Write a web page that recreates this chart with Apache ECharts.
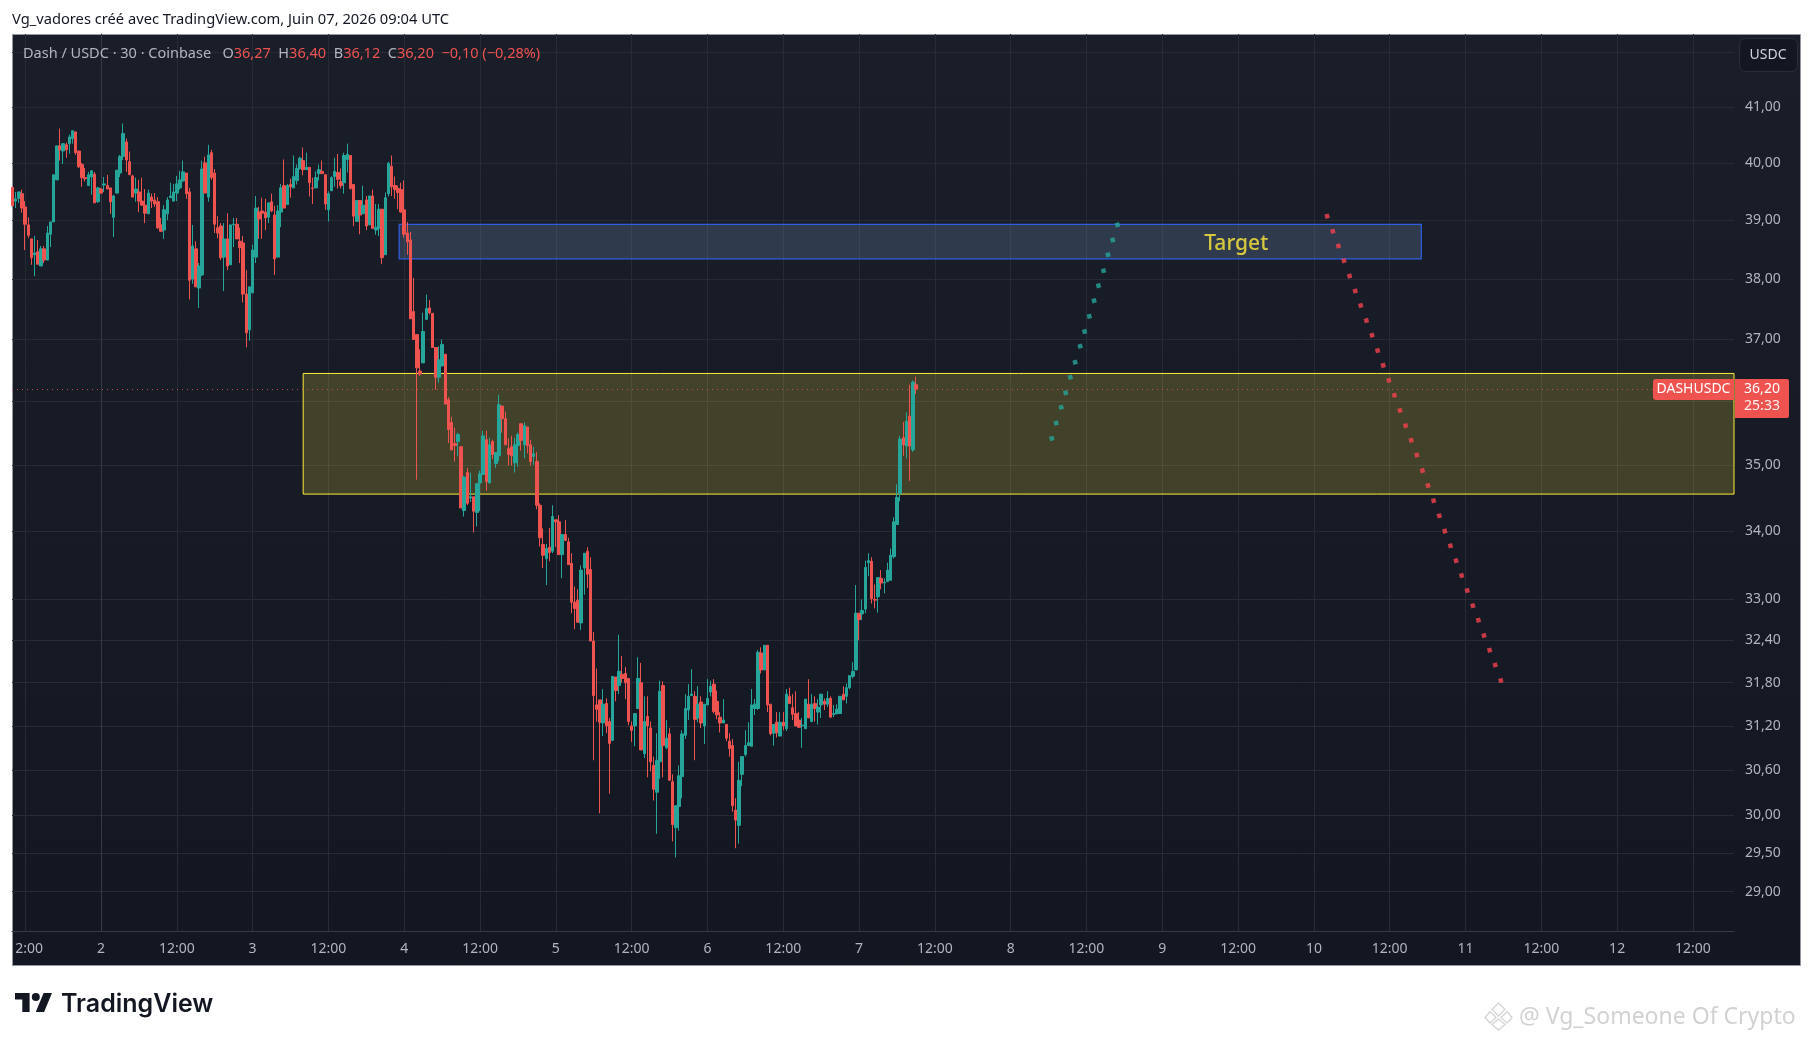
<!DOCTYPE html>
<html><head><meta charset="utf-8"><title>Dash / USDC</title>
<style>html,body{margin:0;padding:0;background:#fff}#c{width:1814px;height:1041px}</style>
<script src="https://cdn.jsdelivr.net/npm/echarts@6/dist/echarts.min.js"></script>
</head><body><div id="c"></div><script>
// x positions are hours after 2026-06-02 00:00 UTC; candles are 30 minutes apart
const firstCandleHour = -14;
const opens = [
39.57,39.33,39.38,39.46,39.23,38.92,38.68,38.41,38.46,38.22,
38.51,38.32,38.76,38.97,39.70,40.30,40.21,40.32,40.34,40.43,
40.55,40.21,39.97,39.74,39.60,39.75,39.80,39.32,39.54,39.61,
39.60,39.56,39.05,39.47,39.82,40.11,40.37,40.02,39.77,39.47,
39.49,39.33,39.26,39.11,39.40,39.35,39.32,38.92,38.83,39.11,
39.39,39.33,39.47,39.56,39.68,39.82,39.49,38.00,38.51,37.85,
38.07,40.00,39.40,40.18,39.82,38.87,38.90,38.37,38.68,38.24,
38.92,38.93,38.64,38.61,37.75,37.16,37.77,38.37,39.14,39.16,
39.14,39.05,39.32,39.09,38.37,39.14,39.60,39.27,39.62,39.56,
39.69,39.90,40.04,39.88,39.92,39.56,39.56,39.81,39.85,39.79,
39.18,39.51,39.76,39.83,39.67,39.65,40.06,40.13,39.62,38.98,
39.34,39.11,39.35,38.92,39.42,38.83,38.86,39.19,38.41,39.46,
39.94,39.60,39.55,39.53,39.18,38.78,38.66,37.46,37.08,36.49,
36.62,37.33,37.52,37.43,36.87,36.39,36.57,36.76,36.03,35.67,
35.34,35.37,35.29,34.31,34.89,34.50,34.52,34.28,34.73,34.86,
35.40,34.73,35.37,35.03,35.15,35.93,35.73,35.26,35.29,35.04,
35.31,35.65,35.32,35.60,35.32,35.14,35.06,34.39,33.80,33.59,
33.76,33.70,34.17,34.14,33.65,33.95,33.84,33.52,32.95,32.98,
32.65,33.45,33.70,33.43,32.39,31.49,31.56,31.24,31.51,31.26,
31.00,31.88,31.76,31.92,31.93,31.86,31.20,31.20,31.44,31.80,
30.82,31.33,31.17,30.66,30.30,30.71,31.76,30.90,31.09,30.44,
29.83,30.11,30.51,31.07,31.42,31.62,31.61,31.31,31.53,31.20,
31.49,31.67,31.78,31.54,31.32,31.24,31.22,30.99,30.93,30.06,
29.86,30.54,30.81,30.93,30.92,31.44,31.44,32.22,31.98,32.33,
31.50,31.10,31.25,31.06,31.25,31.16,31.61,31.45,31.37,31.28,
31.20,31.16,31.50,31.26,31.51,31.39,31.49,31.54,31.50,31.58,
31.36,31.37,31.37,31.64,31.61,31.73,31.89,31.98,32.79,32.78,
32.85,33.53,33.55,32.99,33.03,33.30,33.23,33.25,33.27,33.62,
34.10,34.57,35.43,35.30,35.77,35.24,36.27];
const highs = [
39.57,39.49,39.49,39.53,39.33,39.05,38.68,38.73,38.66,38.56,
38.56,38.90,38.97,39.79,40.30,40.61,40.34,40.36,40.50,40.57,
40.55,40.21,40.00,39.91,39.84,39.87,39.84,39.58,39.56,39.75,
39.79,39.56,39.44,39.87,40.14,40.70,40.43,40.20,39.79,39.74,
39.70,39.74,39.54,39.53,39.46,39.47,39.40,39.04,39.26,39.40,
39.65,39.63,39.77,39.86,40.04,39.82,39.56,38.92,38.64,38.27,
40.04,40.11,40.32,40.23,39.89,39.07,38.95,38.95,39.12,38.92,
39.04,39.04,38.87,38.73,38.15,37.87,38.58,39.42,39.23,39.39,
39.37,39.30,39.46,39.25,39.26,39.63,40.06,39.63,39.72,40.13,
39.97,40.11,40.27,40.18,39.92,39.74,39.85,39.97,40.04,39.79,
39.50,39.76,40.09,40.16,39.90,40.18,40.34,40.13,39.63,39.34,
39.34,39.60,39.42,39.42,39.53,39.28,39.28,39.19,39.48,40.02,
40.13,39.76,39.60,39.65,39.69,38.97,38.80,38.02,37.08,36.84,
37.44,37.74,37.65,37.43,36.87,36.89,37.00,36.76,36.07,35.76,
35.59,35.51,35.29,34.84,34.96,34.89,34.52,34.72,34.92,35.54,
35.54,35.43,35.40,35.20,36.11,35.93,35.84,35.42,35.46,35.43,
35.51,35.65,35.67,35.60,35.40,35.29,35.21,34.42,34.04,33.81,
34.05,34.39,34.17,34.24,33.95,34.17,33.90,33.67,33.18,33.14,
33.49,33.67,33.76,33.61,32.52,32.00,31.56,31.71,31.58,31.31,
31.89,31.88,32.48,32.18,32.02,31.86,31.26,31.37,32.16,32.08,
31.61,31.61,31.26,30.78,31.10,31.83,31.82,31.28,31.17,30.54,
30.12,30.66,31.14,31.64,31.78,31.99,31.68,31.75,31.61,31.50,
31.85,31.83,31.85,31.69,31.39,31.57,31.22,31.10,31.02,30.22,
30.71,30.78,31.14,31.25,31.71,31.57,32.26,32.30,32.33,32.33,
31.50,31.22,31.39,31.39,31.39,31.71,31.73,31.64,31.68,31.39,
31.31,31.57,31.85,31.64,31.61,31.57,31.64,31.58,31.68,31.61,
31.49,31.50,31.61,31.75,31.79,31.90,32.09,33.20,32.79,32.99,
33.56,33.67,33.61,33.21,33.31,33.42,33.30,33.53,33.74,34.21,
34.71,35.46,35.68,35.83,36.27,36.34,36.40];
const lows = [
39.25,39.21,39.30,39.13,38.49,38.69,38.24,38.05,38.25,38.22,
38.27,38.32,38.54,38.97,39.70,40.04,39.98,40.09,40.16,40.34,
40.14,39.91,39.58,39.67,39.60,39.44,39.30,39.30,39.46,39.49,
39.54,39.11,38.71,39.47,39.75,40.05,39.84,39.79,39.40,39.32,
39.14,39.26,38.95,39.11,39.21,39.23,38.85,38.80,38.68,39.00,
39.39,39.33,39.33,39.53,39.67,39.37,37.66,37.92,37.87,37.52,
38.05,39.47,39.32,39.70,38.78,38.69,38.32,37.80,38.15,38.24,
38.54,38.68,38.27,37.61,36.87,36.98,37.77,38.27,38.68,38.68,
38.83,38.95,39.14,38.07,38.37,38.88,39.21,39.27,39.39,39.56,
39.62,39.88,39.78,39.88,39.41,39.28,39.56,39.69,39.81,39.18,
38.98,39.51,39.58,39.55,39.55,39.46,39.83,39.53,38.90,38.98,
38.76,39.11,38.83,38.92,38.86,38.75,38.73,38.25,38.41,39.41,
39.42,39.37,39.19,39.13,38.70,38.41,37.34,37.00,34.78,36.41,
36.62,37.33,37.41,36.87,36.19,36.30,36.57,35.96,35.35,35.24,
35.06,35.14,34.35,34.22,34.39,34.44,33.98,34.07,34.30,34.86,
34.61,34.73,35.10,34.96,35.07,35.51,35.32,35.00,35.00,34.89,
34.98,35.23,35.11,35.19,35.00,35.01,34.33,33.77,33.45,33.20,
33.55,33.67,33.76,33.65,33.30,33.86,33.50,32.79,32.56,32.66,
32.55,33.06,33.16,32.39,30.73,31.26,30.02,31.06,31.10,30.28,
31.00,31.54,31.64,31.80,31.57,31.21,30.98,30.92,31.44,30.87,
30.76,30.50,30.58,30.19,29.75,30.48,30.50,30.88,30.46,29.65,
29.44,29.79,30.22,31.02,31.28,31.62,30.73,31.25,31.17,30.95,
31.49,31.61,31.37,31.29,31.11,31.24,30.99,30.78,30.04,29.56,
29.62,30.38,30.78,30.93,30.92,31.35,31.42,31.93,31.98,31.39,
31.07,30.93,31.04,31.06,31.14,31.13,31.51,31.28,31.20,31.18,
30.90,31.16,31.31,31.25,31.26,31.22,31.31,31.42,31.46,31.32,
31.32,31.36,31.37,31.56,31.51,31.71,31.86,31.98,32.40,32.69,
32.79,33.33,32.93,32.86,32.80,33.14,33.08,33.25,33.27,33.59,
34.10,34.45,35.15,35.11,34.76,35.21,36.12];
const closes = [
39.25,39.37,39.49,39.21,38.93,38.74,38.36,38.44,38.25,38.51,
38.32,38.78,38.97,39.79,40.30,40.23,40.34,40.23,40.46,40.57,
40.18,39.93,39.74,39.72,39.79,39.86,39.30,39.56,39.47,39.63,
39.54,39.32,39.42,39.87,40.11,40.52,40.05,39.79,39.40,39.54,
39.33,39.26,39.12,39.47,39.33,39.28,38.87,38.81,39.18,39.35,
39.42,39.49,39.63,39.70,39.84,39.46,37.98,38.56,37.87,38.22,
39.89,39.47,40.14,39.74,38.93,38.78,38.36,38.68,38.22,38.92,
38.93,38.68,38.53,37.75,37.11,37.87,38.49,39.21,39.02,39.12,
39.04,39.30,39.16,38.34,39.16,39.56,39.21,39.60,39.58,39.76,
39.90,40.08,39.88,39.92,39.65,39.55,39.74,39.88,39.81,39.28,
39.46,39.74,39.85,39.71,39.60,40.13,40.15,39.55,39.07,39.34,
39.09,39.26,38.90,39.42,38.86,38.88,39.19,38.36,39.39,39.99,
39.58,39.53,39.48,39.14,38.76,38.63,37.34,37.00,36.54,36.44,
37.13,37.51,37.44,36.87,36.39,36.67,36.92,35.96,35.56,35.24,
35.31,35.48,34.35,34.82,34.42,34.52,34.30,34.72,34.87,35.46,
34.75,35.32,35.17,35.20,35.95,35.73,35.32,35.17,35.15,35.32,
35.48,35.39,35.62,35.31,35.06,35.18,34.39,33.90,33.64,33.74,
33.68,34.22,34.14,33.65,33.95,33.86,33.50,32.95,32.86,32.66,
33.42,33.67,33.36,32.39,31.62,31.43,31.25,31.50,31.20,30.96,
31.89,31.69,31.96,31.86,31.80,31.26,31.14,31.37,31.86,30.87,
31.26,31.20,30.71,30.34,30.73,31.68,30.93,31.03,30.46,29.87,
30.12,30.52,31.09,31.44,31.61,31.64,31.29,31.50,31.24,31.50,
31.58,31.75,31.40,31.35,31.24,31.28,31.03,30.89,30.12,29.93,
30.46,30.78,30.93,30.97,31.49,31.50,32.23,31.98,32.33,31.49,
31.09,31.22,31.11,31.25,31.20,31.64,31.51,31.36,31.20,31.18,
31.21,31.57,31.31,31.50,31.44,31.46,31.64,31.50,31.58,31.32,
31.37,31.43,31.61,31.56,31.73,31.90,31.96,32.79,32.70,32.83,
33.46,33.56,33.00,32.98,33.31,33.23,33.24,33.42,33.64,34.14,
34.51,35.41,35.32,35.69,35.30,36.31,36.20];

const xTickHours = [-12,0,12,24,36,48,60,72,84,96,108,120,132,144,156,168,180,192,204,216,228,240,252];
const xTickLabels = ['{cut|2:00}','2','12:00','3','12:00','4','12:00','5','12:00','6','12:00','7','12:00','8','12:00','9','12:00','10','12:00','11','12:00','12','12:00'];
const yGridPrices = [42,41,40,39,38,37,36,35,34,33,32.4,31.8,31.2,30.6,30,29.5,29];
const yLabelPrices = [41,40,39,38,37,35,34,33,32.4,31.8,31.2,30.6,30,29.5,29];

const upPathHours = [150.5,151.2,152.0,152.7,153.45,154.2,155.0,155.7,156.45,157.2,157.9,158.7,159.4,160.15,160.9];
const upPathPrices = [35.42,35.66,35.91,36.14,36.39,36.63,36.89,37.13,37.38,37.64,37.89,38.14,38.41,38.66,38.92];
const downPathHours = [194.1,194.99,195.88,196.76,197.65,198.54,199.42,200.31,201.2,202.08,202.97,203.86,204.74,205.63,206.52,207.4,208.29,209.18,210.06,210.95,211.84,212.72,213.61,214.5,215.38,216.27,217.16,218.04,218.93,219.82,220.7,221.59];
const downPathPrices = [39.07,38.81,38.56,38.31,38.05,37.80,37.56,37.31,37.07,36.82,36.58,36.34,36.10,35.86,35.62,35.39,35.16,34.92,34.69,34.46,34.23,34.00,33.78,33.56,33.34,33.12,32.90,32.69,32.47,32.26,32.05,31.83];

const targetZone = {from:47.2, to:209, low:38.34, high:38.93};
const supplyZone = {from:32, to:259.5, low:34.56, high:36.45};
const targetLabel = {hour:179.7, price:38.6};
const lastPrice = 36.20;
const xRangeHours = [-14.09, 258.5];

const candleData = opens.map((o,i)=>[firstCandleHour+i/2, o, closes[i], lows[i], highs[i]]);
const tickLabelAt = {}; xTickHours.forEach((t,i)=>tickLabelAt[t]=xTickLabels[i]);
const grid = '#272B36', axisCol='#363A45', txt='#B2B5BE', red='#EF5350', green='#26A69A';
const uiFont = '"Noto Sans", Roboto, sans-serif';

const chart = echarts.init(document.getElementById('c'),null,{renderer:'canvas'});
chart.setOption({
  animation:false, backgroundColor:'#ffffff',
  textStyle:{fontFamily:uiFont},
  grid:{left:12,right:80,top:34,bottom:110,containLabel:false},
  xAxis:{type:'value',min:xRangeHours[0],max:xRangeHours[1],
    axisLine:{show:true,onZero:false,lineStyle:{color:axisCol}},
    axisTick:{show:false,customValues:xTickHours},
    splitLine:{show:true,lineStyle:{color:grid,width:1}},
    axisLabel:{customValues:xTickHours,color:txt,fontSize:14,margin:11,hideOverlap:false,showMinLabel:true,showMaxLabel:true,
      formatter:v=>tickLabelAt[v]||'',
      rich:{cut:{color:txt,fontSize:14,fontFamily:uiFont,padding:[0,0,0,8]}}}},
  yAxis:{type:'log',logBase:10,position:'right',min:28.5,max:42.34,
    axisLine:{show:true,lineStyle:{color:axisCol}},
    axisTick:{show:false,customValues:yGridPrices},
    minorTick:{show:false},minorSplitLine:{show:false},
    splitLine:{show:true,lineStyle:{color:grid,width:1}},
    axisLabel:{customValues:yLabelPrices,color:txt,fontSize:14,margin:11,padding:[0,0,4,0],hideOverlap:false,
      formatter:v=>Number(v).toFixed(2).replace('.',',')}},
  series:[
    {type:'line',data:[],z:1,silent:true,showSymbol:false,clip:true,
      markArea:{silent:true,z:1,data:[
        [{name:'',xAxis:supplyZone.from,yAxis:supplyZone.high,itemStyle:{color:'rgba(255,235,59,0.19)',borderColor:'#FFEB3B',borderWidth:1}},
         {xAxis:supplyZone.to,yAxis:supplyZone.low}],
        [{name:'',xAxis:targetZone.from,yAxis:targetZone.high,itemStyle:{color:'rgba(136,170,220,0.21)',borderColor:'#2F5FE0',borderWidth:1.2}},
         {xAxis:targetZone.to,yAxis:targetZone.low}]
      ]}},
    {type:'candlestick',name:'DASHUSDC',z:5,barWidth:3,encode:{x:0,y:[1,2,3,4]},data:candleData,
      itemStyle:{color:green,color0:red,borderColor:green,borderColor0:red,borderWidth:1},
      markLine:{silent:true,symbol:'none',z:4,label:{show:false},
        lineStyle:{color:red,type:[1,4],width:1,opacity:0.8},data:[{yAxis:lastPrice}]}},
    {type:'scatter',z:6,symbol:'rect',symbolRotate:15,symbolSize:4.5,itemStyle:{color:green},
      data:upPathHours.map((h,i)=>[h,upPathPrices[i]])},
    {type:'scatter',z:6,symbol:'rect',symbolRotate:15,symbolSize:4.5,itemStyle:{color:'#F4424E'},
      data:downPathHours.map((h,i)=>[h,downPathPrices[i]])},
    {type:'scatter',z:7,symbolSize:0,data:[[targetLabel.hour,targetLabel.price]],
      label:{show:true,position:'inside',formatter:'Target',color:'#FFEB3B',fontSize:21,fontWeight:500,fontFamily:uiFont}}
  ],
  graphic:[
    {type:'rect',z:-10,silent:true,shape:{x:12.5,y:34.5,width:1788,height:931},
      style:{fill:new echarts.graphic.LinearGradient(0,0,0,1,[{offset:0,color:'#1A1E29'},{offset:1,color:'#131722'}]),stroke:'#9598A1',lineWidth:1}},
    {type:'text',z:50,silent:true,x:12,y:12,style:{text:'Vg_vadores créé avec TradingView.com, Juin 07, 2026 09:04 UTC',fill:'#131722',font:'14.7px '+uiFont}},
    {type:'text',z:50,silent:true,x:23,y:46,style:{
      text:'{g|Dash / USDC · 30 · Coinbase   O}{r|36,27}{g|  H}{r|36,40}{g|  B}{r|36,12}{g|  C}{r|36,20  −0,10 (−0,28%)}',
      font:'14.5px '+uiFont,
      rich:{g:{fill:txt,font:'14.5px '+uiFont},r:{fill:red,font:'14.5px '+uiFont}}}},
    {type:'rect',z:50,silent:true,shape:{x:1739.5,y:38.5,width:58,height:33,r:6},style:{fill:'#131722',stroke:'#2A2E39',lineWidth:1}},
    {type:'text',z:51,silent:true,x:1768,y:55,style:{text:'USDC',fill:'#D1D4DC',font:'14px '+uiFont,align:'center',verticalAlign:'middle'}},
    {type:'rect',z:50,silent:true,shape:{x:1653,y:379,width:81,height:21,r:[3,0,0,3]},style:{fill:red}},
    {type:'text',z:51,silent:true,x:1693.5,y:389.5,style:{text:'DASHUSDC',fill:'#fff',font:'14px '+uiFont,align:'center',verticalAlign:'middle'}},
    {type:'rect',z:50,silent:true,shape:{x:1735,y:379,width:54,height:39,r:[0,2,2,0]},style:{fill:red}},
    {type:'text',z:51,silent:true,x:1762,y:389,style:{text:'36,20',fill:'#fff',font:'14px '+uiFont,align:'center',verticalAlign:'middle'}},
    {type:'text',z:51,silent:true,x:1762,y:406,style:{text:'25:33',fill:'#fff',font:'14px '+uiFont,align:'center',verticalAlign:'middle',opacity:0.9}},
    {type:'polygon',z:50,silent:true,shape:{points:[[15,993],[29.6,993],[29.6,1012],[22.3,1012],[22.3,999.4],[15,999.4]]},style:{fill:'#131722'}},
    {type:'polygon',z:50,silent:true,shape:{points:[[35.8,1012],[43.6,993],[52,993],[44.1,1012]]},style:{fill:'#131722'}},
    {type:'circle',z:50,silent:true,shape:{cx:35.8,cy:997,r:4},style:{fill:'#131722'}},
    {type:'text',z:50,silent:true,x:61,y:1004,style:{text:'TradingView',fill:'#131722',font:'600 25px Inter',verticalAlign:'middle'}},
    {type:'polygon',z:50,silent:true,shape:{points:[[1498.5,1003],[1505,1009.5],[1498.5,1016],[1492,1009.5]]},style:{fill:'none',stroke:'#D6D6D6',lineWidth:1.4}},
    {type:'polygon',z:50,silent:true,shape:{points:[[1490,1011.5],[1496,1017.5],[1490,1023],[1485,1017.5]]},style:{fill:'none',stroke:'#D6D6D6',lineWidth:1.4}},
    {type:'polygon',z:50,silent:true,shape:{points:[[1507,1011.5],[1512,1017.5],[1507,1023],[1501,1017.5]]},style:{fill:'none',stroke:'#D6D6D6',lineWidth:1.4}},
    {type:'polygon',z:50,silent:true,shape:{points:[[1498.5,1019],[1505,1024.5],[1498.5,1030],[1492,1024.5]]},style:{fill:'none',stroke:'#D6D6D6',lineWidth:1.4}},
    {type:'text',z:50,silent:true,x:1519,y:1017,style:{text:'@ Vg_Someone Of Crypto',fill:'#D2D2D2',font:'23px '+uiFont,verticalAlign:'middle'}}
  ]
});
</script></body></html>
